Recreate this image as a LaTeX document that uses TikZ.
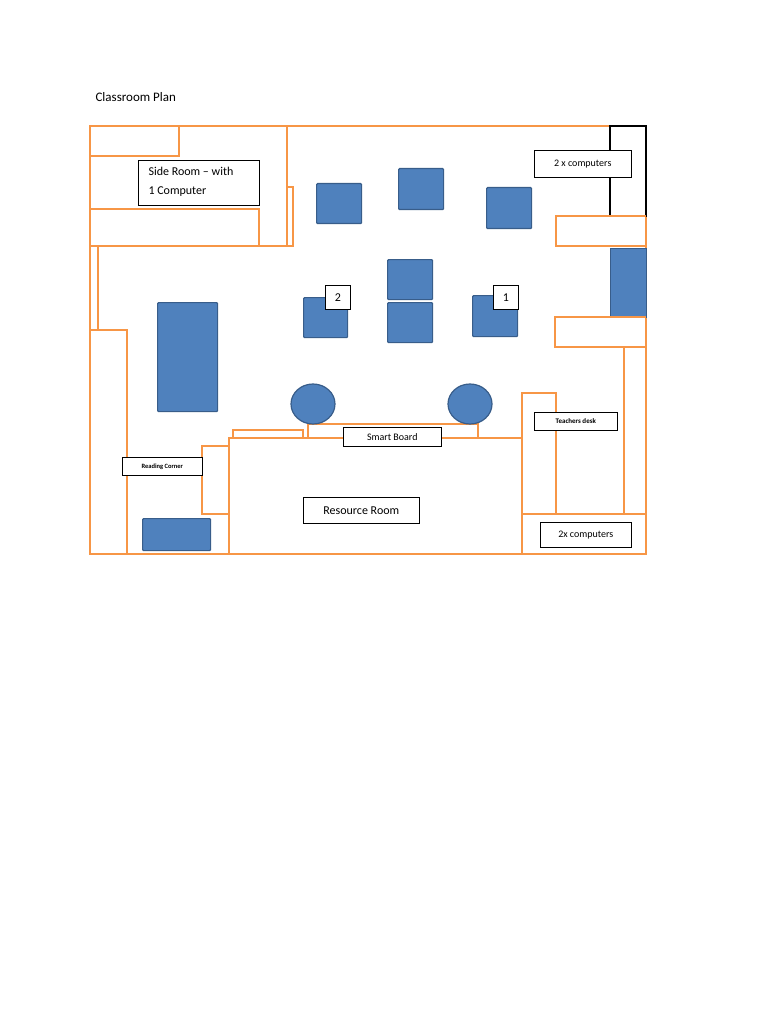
\documentclass[tikz,border=0pt]{standalone}
\usepackage{fontspec}
\setmainfont{Carlito}
\definecolor{org}{HTML}{F79646}
\definecolor{blu}{HTML}{4F81BD}
\definecolor{bld}{HTML}{385D8A}
\begin{document}
\begin{tikzpicture}[x=1pt,y=-1pt,
  wall/.style={draw=org,line width=1.6pt},
  furn/.style={fill=blu,draw=bld,line width=1.2pt,rounded corners=1pt},
  lab/.style={draw=black,fill=white,line width=0.6pt}]
\useasboundingbox (0,0) rectangle (768,1024);
\node[anchor=west,font=\fontsize{13}{15}\selectfont] (title) at (92,97) {Classroom Plan};
% outer
\draw[wall] (90,126) rectangle (646,554);
% side room
\draw[wall] (90,156) -- (179,156) -- (179,126);
\draw[wall] (287,126) -- (287,246);
\draw[wall] (90,209) -- (259,209) -- (259,246);
\draw[wall] (90,246) -- (293,246) -- (293,187) -- (287,187);
\node[lab,minimum width=121pt,minimum height=45pt,anchor=north west] (side) at (138,160) {};
\node[anchor=west,align=left,font=\fontsize{12}{19}\selectfont] (sidet) at (145,182) {Side Room -- with\\1 Computer};
% left
\draw[wall] (98,246) -- (98,330);
\draw[wall] (90,330) -- (127,330) -- (127,554);
\node[furn,minimum width=60pt,minimum height=109pt,anchor=north west] (big) at (157,302) {};
\node[furn,minimum width=68pt,minimum height=32pt,anchor=north west] (bl) at (142,518) {};
\draw[wall] (229,446) -- (202,446) -- (202,514) -- (229,514);
\node[lab,minimum width=80pt,minimum height=18pt,anchor=north west,font=\fontsize{6.5}{7}\selectfont\bfseries] (rc) at (122,457) {Reading Corner};
% resource room
\draw[wall] (229,438) rectangle (522,554);
\draw[wall,line width=1.2pt] (233,438) -- (233,430) -- (303,430) -- (303,438);
\draw[wall] (308,438) -- (308,424) -- (478,424) -- (478,438);
\draw[furn] (313,404) ellipse (22 and 20);
\draw[furn] (470,404) ellipse (22 and 20);
\node[lab,minimum width=98pt,minimum height=19pt,anchor=north west,font=\fontsize{10}{12}\selectfont] (sb) at (343,427) {Smart Board};
\node[lab,minimum width=116pt,minimum height=26pt,anchor=north west,font=\fontsize{12}{14}\selectfont] (rr) at (303,497) {Resource Room};
% desks
\node[furn,minimum width=45pt,minimum height=40pt,anchor=north west] (d1) at (316,183) {};
\node[furn,minimum width=45pt,minimum height=41pt,anchor=north west] (d2) at (398,168) {};
\node[furn,minimum width=45pt,minimum height=41pt,anchor=north west] (d3) at (486,187) {};
\node[furn,minimum width=44pt,minimum height=40pt,anchor=north west] (d4) at (303,297) {};
\node[furn,minimum width=45pt,minimum height=40pt,anchor=north west] (d5) at (387,259) {};
\node[furn,minimum width=45pt,minimum height=40pt,anchor=north west] (d6) at (387,302) {};
\node[furn,minimum width=45pt,minimum height=41pt,anchor=north west] (d7) at (472,295) {};
\node[lab,minimum width=25pt,minimum height=24pt,anchor=north west,font=\fontsize{12}{14}\selectfont] (n2) at (325,285) {2};
\node[lab,minimum width=25pt,minimum height=24pt,anchor=north west,font=\fontsize{12}{14}\selectfont] (n1) at (493,285) {1};
% right
\draw[black,line width=1.6pt] (610,126) rectangle (646,216);
\node[lab,minimum width=97pt,minimum height=27pt,anchor=north west,font=\fontsize{10}{12}\selectfont] (pc2) at (534,150) {2 x computers};
\draw[wall] (646,216) -- (556,216) -- (556,246) -- (646,246);
\node[furn,rounded corners=0pt,minimum width=36pt,minimum height=69pt,anchor=north west] (rb) at (610,248) {};
\draw[wall] (646,317) -- (555,317) -- (555,347) -- (646,347);
\draw[wall] (624,347) -- (624,514);
\draw[wall] (522,438) -- (522,393) -- (556,393) -- (556,514);
\draw[wall] (522,514) -- (646,514);
\node[lab,minimum width=83pt,minimum height=18pt,anchor=north west,font=\fontsize{7}{8}\selectfont\bfseries] (td) at (534,412) {Teachers desk};
\node[lab,minimum width=91pt,minimum height=25pt,anchor=north west,font=\fontsize{10}{12}\selectfont] (pc3) at (540,522) {2x computers};
\end{tikzpicture}
\end{document}
